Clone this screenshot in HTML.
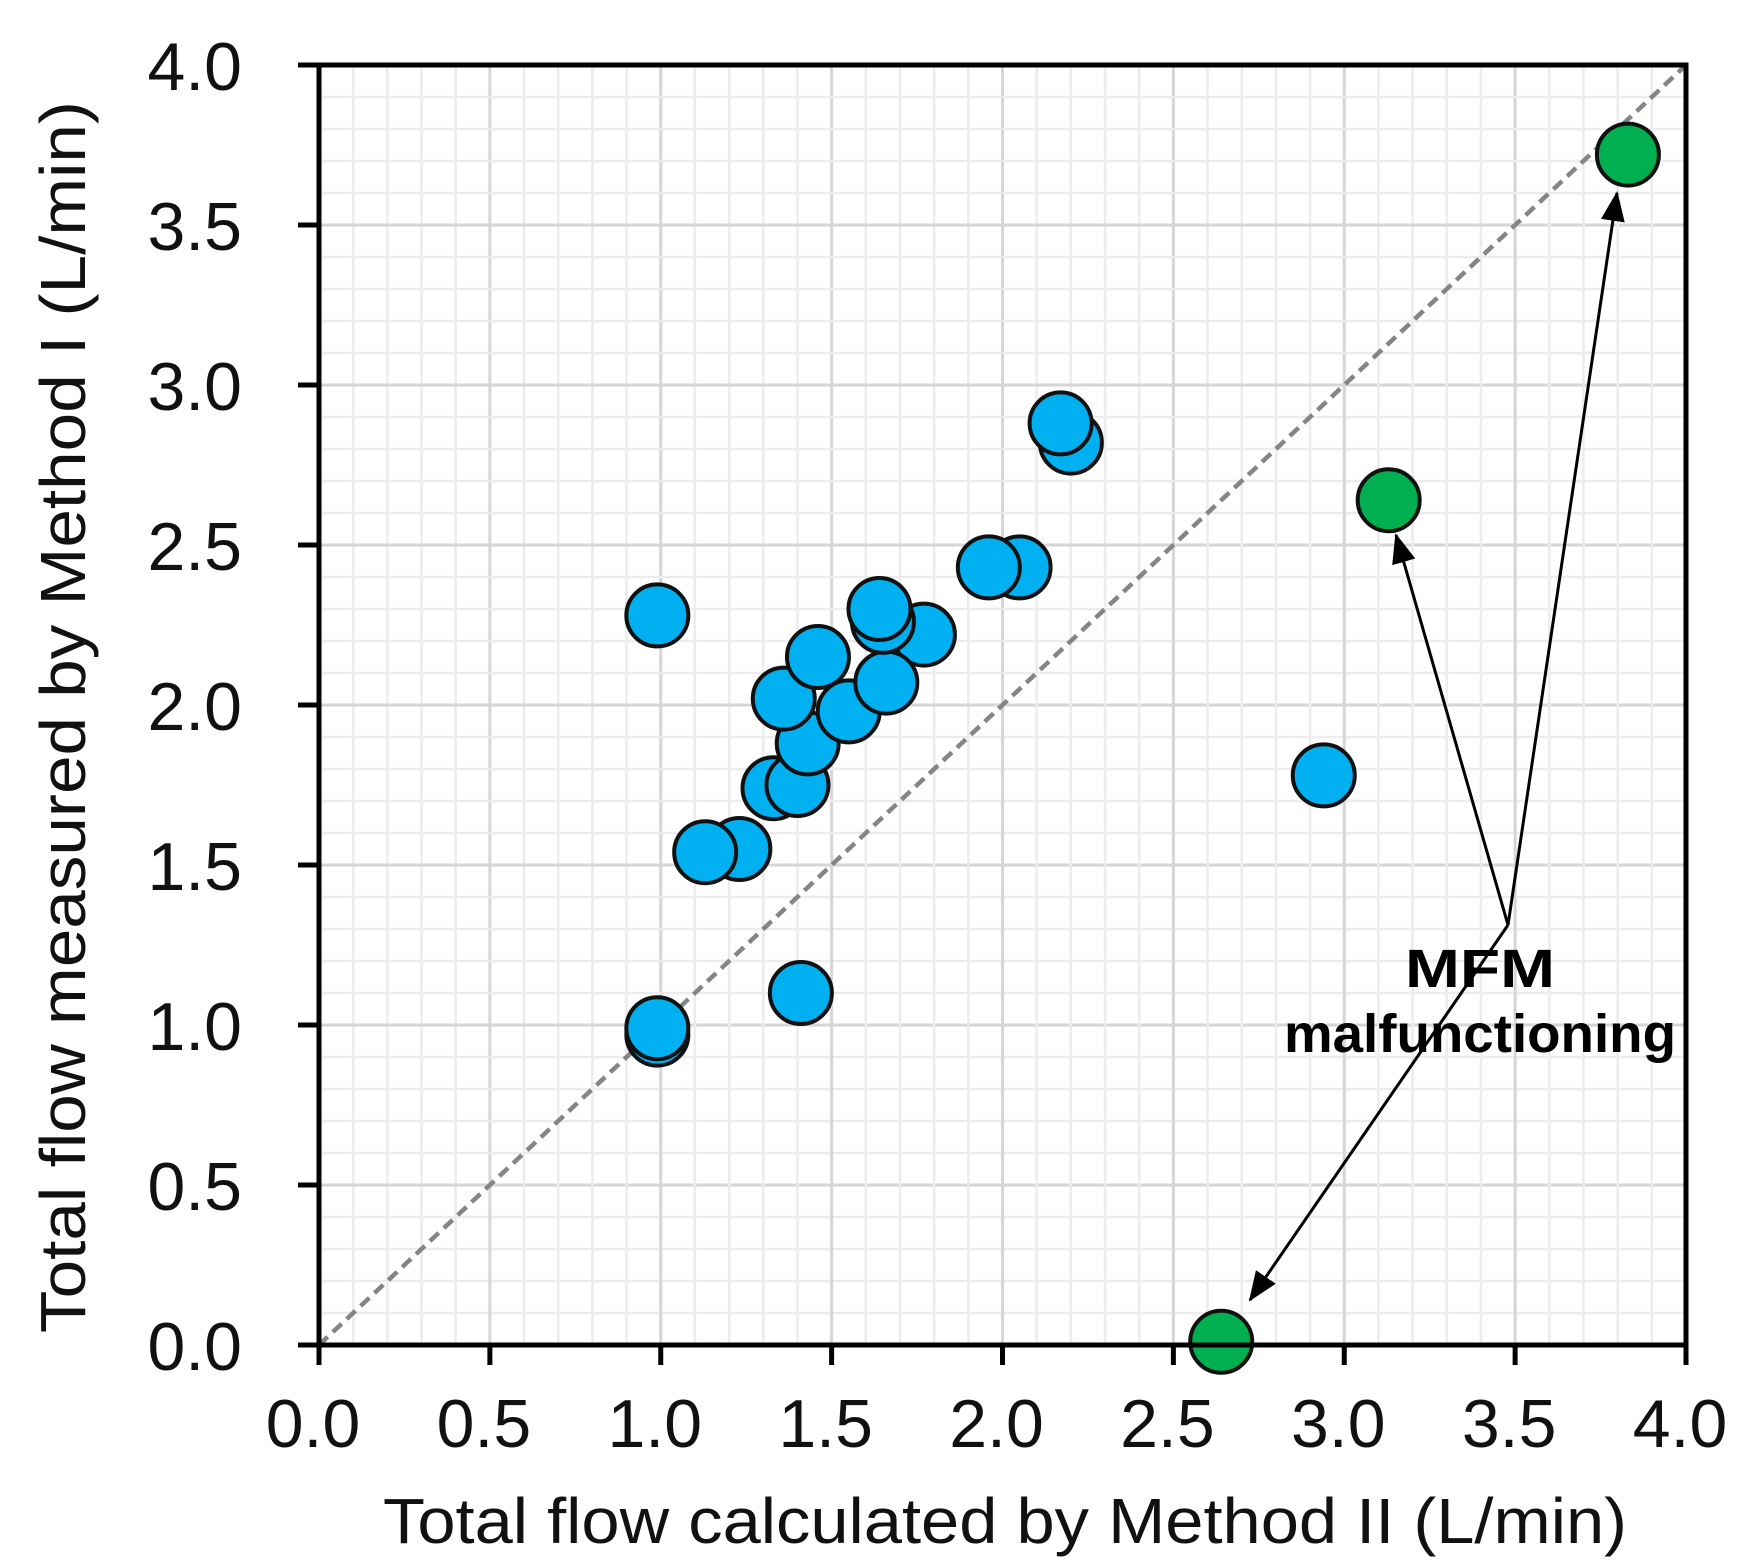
<!DOCTYPE html>
<html><head><meta charset="utf-8"><style>html,body{margin:0;padding:0;background:#fff}svg{display:block}</style></head>
<body>
<svg id="s" xmlns="http://www.w3.org/2000/svg" width="1749" height="1566" viewBox="0 0 1749 1566" font-family="Liberation Sans, Arial, sans-serif">
<defs>
<marker id="a" markerUnits="userSpaceOnUse" markerWidth="30" markerHeight="24" viewBox="0 0 30 24" refX="28" refY="12" orient="auto"><path d="M0,0 L30,12 L0,24 z" fill="#000"/></marker></defs>
<g id="grid"></g>
<line x1="319" y1="1345" x2="1686" y2="65" stroke="#858585" stroke-width="4.5" stroke-dasharray="12,7"/>
<g id="pts" stroke="#111" stroke-width="4"></g>
<g stroke="#000" stroke-width="3" fill="none">
<line x1="1508" y1="925" x2="1250" y2="1300" marker-end="url(#a)"/>
<line x1="1508" y1="925" x2="1396" y2="535" marker-end="url(#a)"/>
<line x1="1508" y1="925" x2="1617" y2="193" marker-end="url(#a)"/>
</g>
<g font-weight="bold" font-size="54" text-anchor="middle" fill="#000">
<text x="1480" y="987" textLength="150" lengthAdjust="spacingAndGlyphs">MFM</text>
<text x="1480" y="1052" textLength="392" lengthAdjust="spacingAndGlyphs">malfunctioning</text>
</g>
<rect x="319" y="65" width="1367" height="1280" fill="none" stroke="#000" stroke-width="5"/>
<g id="ticks" stroke="#000" stroke-width="5"></g>
<g id="lab" font-size="68" fill="#111"></g>
<text x="1005" y="1543" font-size="64" text-anchor="middle" textLength="1244" lengthAdjust="spacingAndGlyphs" fill="#111">Total flow calculated by Method II (L/min)</text>
<text transform="translate(85,717) rotate(-90)" font-size="64" text-anchor="middle" textLength="1232" lengthAdjust="spacingAndGlyphs" fill="#111">Total flow measured by Method I (L/min)</text>
</svg>
<script>
var NS="http://www.w3.org/2000/svg";
function X(v){return 319+v*341.75}function Y(v){return 1345-v*320}
function el(p,t,a){var e=document.createElementNS(NS,t);for(var k in a)e.setAttribute(k,a[k]);p.appendChild(e);return e}
var g=document.getElementById('grid');
for(var i=1;i<40;i++){var maj=i%5==0;var c=maj?"#d6d6d6":"#ececec",w=maj?3:2.5;
el(g,'line',{x1:X(i/10),x2:X(i/10),y1:65,y2:1345,stroke:c,'stroke-width':w});
el(g,'line',{y1:Y(i/10),y2:Y(i/10),x1:319,x2:1686,stroke:c,'stroke-width':w});}
var t=document.getElementById('ticks'),l=document.getElementById('lab');
for(var i=0;i<=8;i++){var v=i/2;
el(t,'line',{x1:X(v),x2:X(v),y1:1345,y2:1365});
el(t,'line',{x1:298,x2:319,y1:Y(v),y2:Y(v)});
var a=el(l,'text',{x:X(v)-6,y:1447,'text-anchor':'middle'});a.textContent=v.toFixed(1);
var b=el(l,'text',{x:242,y:Y(v)+25,'text-anchor':'end'});b.textContent=v.toFixed(1);}
var blue=[[0.99,0.97],[0.99,0.99],[1.41,1.10],[1.23,1.55],[1.13,1.54],[1.33,1.74],[1.40,1.75],[1.43,1.88],[1.36,2.02],[1.46,2.15],[1.55,1.98],[1.77,2.22],[1.66,2.07],[1.65,2.26],[1.64,2.30],[0.99,2.28],[2.05,2.43],[1.96,2.43],[2.20,2.82],[2.17,2.88],[2.94,1.78]];
var green=[[2.64,0.01],[3.13,2.64],[3.83,3.72]];
var p=document.getElementById('pts');
blue.forEach(function(d){el(p,'circle',{cx:X(d[0]),cy:Y(d[1]),r:31,fill:"#00b0f0"})});
green.forEach(function(d){el(p,'circle',{cx:X(d[0]),cy:Y(d[1]),r:31,fill:"#00b050"})});
</script>
</body></html>
